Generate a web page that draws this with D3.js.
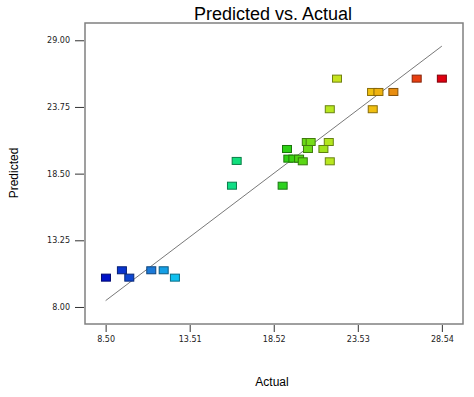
<!DOCTYPE html>
<html>
<head>
<meta charset="utf-8">
<script src="https://cdn.jsdelivr.net/npm/d3@7"></script>
<style>
  body { margin: 0; background: #fff; }
  text { font-family: "Liberation Sans", Arial, sans-serif; }
</style>
</head>
<body>
<svg width="474" height="397"></svg>
<script>
// actual and predicted values
const actual = [8.52, 9.47, 9.91, 11.22, 11.96, 12.63, 16.03, 16.31,
  19.05, 19.31, 19.39, 19.69, 20.03, 20.25, 20.49, 20.56, 20.72, 21.48, 21.80, 21.86, 21.86,
  22.29, 24.38, 24.42, 24.76, 25.65, 27.04, 28.54];
const predicted = [10.31, 10.89, 10.31, 10.89, 10.89, 10.31, 17.55, 19.50,
  17.55, 20.44, 19.68, 19.68, 19.68, 19.47, 20.99, 20.44, 20.99, 20.44, 20.99, 23.57, 19.47,
  25.98, 24.93, 23.57, 24.93, 24.93, 25.98, 25.98];
const xTicks = [8.50, 13.51, 18.52, 23.53, 28.54];
const yTicks = [8.00, 13.25, 18.50, 23.75, 29.00];

// colour stops along actual value (blue -> red)
const colorDomain = [8.5, 11.2, 12.6, 16.2, 19.5, 22, 24.4, 25.6, 27, 28.5];
const colorRange = ["#0010c8", "#1a78d8", "#10c0f0", "#10e080", "#30d010",
  "#c0e820", "#f0c010", "#e89010", "#e84010", "#e00010"];

const margin = { top: 23, right: 11, bottom: 73, left: 85 };
const svg = d3.select("svg"),
  width = +svg.attr("width") - margin.left - margin.right,
  height = +svg.attr("height") - margin.top - margin.bottom;

const x = d3.scaleLinear().domain([7.27, 29.8]).range([0, width]);
const y = d3.scaleLinear().domain([6.66, 30.36]).range([height, 0]);
const color = d3.scaleLinear().domain(colorDomain).range(colorRange);

const g = svg.append("g").attr("transform", `translate(${margin.left},${margin.top})`);

// frame
g.append("rect")
  .attr("width", width).attr("height", height)
  .attr("fill", "none").attr("stroke", "#808080").attr("stroke-width", 1.5);

// axes, ticks hang outside the frame
const xAxis = g.append("g")
  .attr("transform", `translate(0,${height + 1})`)
  .call(d3.axisBottom(x).tickValues(xTicks).tickFormat(d3.format(".2f")).tickSize(7).tickPadding(4));
const yAxis = g.append("g")
  .attr("transform", "translate(-1,0)")
  .call(d3.axisLeft(y).tickValues(yTicks).tickFormat(d3.format(".2f")).tickSize(9).tickPadding(5));
[xAxis, yAxis].forEach(a => {
  a.select(".domain").remove();
  a.selectAll(".tick line").attr("stroke", "#333");
  a.selectAll(".tick text").attr("font-size", 8.5).attr("fill", "#222")
    .style("font-family", "'DejaVu Sans', sans-serif").attr("font-size", 8);
});

// y = x reference line
g.append("line")
  .attr("x1", x(8.5)).attr("y1", y(8.5))
  .attr("x2", x(28.54)).attr("y2", y(28.54))
  .attr("stroke", "#555").attr("stroke-width", 0.8);

// points
g.selectAll(".pt")
  .data(actual.map((a, i) => ({ a, p: predicted[i] })))
  .enter().append("rect")
  .attr("class", "pt")
  .attr("x", d => x(d.a) - 4.5)
  .attr("y", d => y(d.p) - 3.5)
  .attr("width", 9).attr("height", 7)
  .attr("fill", d => color(d.a))
  .attr("stroke", d => d3.color(color(d.a)).darker(1.6))
  .attr("stroke-width", 1);

// titles
svg.append("text")
  .attr("x", 273).attr("y", 20)
  .attr("text-anchor", "middle").attr("font-size", 18)
  .text("Predicted vs. Actual");
svg.append("text")
  .attr("x", 272).attr("y", 386)
  .attr("text-anchor", "middle").attr("font-size", 12)
  .text("Actual");
svg.append("text")
  .attr("transform", "translate(18,173) rotate(-90)")
  .attr("text-anchor", "middle").attr("font-size", 12)
  .text("Predicted");
</script>
</body>
</html>
